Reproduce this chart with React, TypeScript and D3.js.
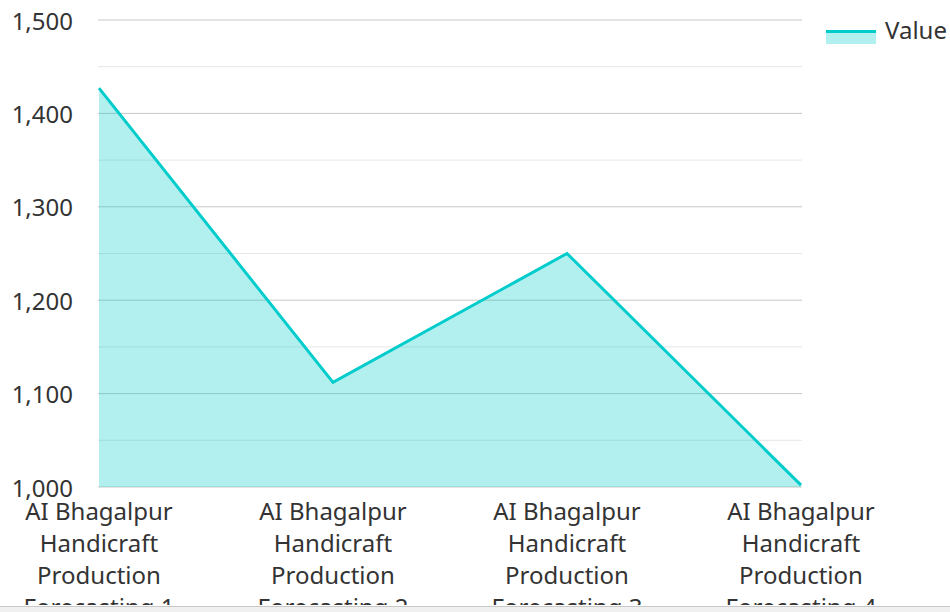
import React from "react";
import * as d3 from "d3";

const categories = [
  "AI Bhagalpur Handicraft Production Forecasting 1",
  "AI Bhagalpur Handicraft Production Forecasting 2",
  "AI Bhagalpur Handicraft Production Forecasting 3",
  "AI Bhagalpur Handicraft Production Forecasting 4",
];
const values = [1427, 1112, 1250, 1002];
const majorTicks = [1000, 1100, 1200, 1300, 1400, 1500];
const minorTicks = [1050, 1150, 1250, 1350, 1450];
const seriesName = "Value";

const W = 950;
const H = 612;
const FONT = "'Noto Sans', 'Open Sans', sans-serif";
const LINE = "#00CCCC";
const FILL = "rgba(0,204,204,0.3)";
const TEXT = "#333333";

function wrapLabel(s: string): string[] {
  const words = s.split(" ");
  return [words.slice(0, 2).join(" "), words[2], words[3], words.slice(4).join(" ")];
}

export default function App() {
  const x = d3.scalePoint<string>().domain(categories).range([99, 801]);
  const y = d3.scaleLinear().domain([1000, 1500]).range([487, 20]);
  const data = categories.map((c, i) => ({ c, v: values[i] }));
  const line = d3
    .line<{ c: string; v: number }>()
    .x((d) => x(d.c)!)
    .y((d) => y(d.v));
  const area = d3
    .area<{ c: string; v: number }>()
    .x((d) => x(d.c)!)
    .y0(y(1000))
    .y1((d) => y(d.v));
  const fmt = d3.format(",");

  return (
    <svg
      width={W}
      height={H}
      style={{ position: "absolute", left: 0, top: 0, background: "#fff" }}
      fontFamily={FONT}
    >
      <defs>
        <clipPath id="clip">
          <rect x={0} y={0} width={W} height={605} />
        </clipPath>
      </defs>
      <g clipPath="url(#clip)">
        {minorTicks.map((t) => (
          <line key={"m" + t} x1={98} x2={802} y1={y(t)} y2={y(t)} stroke="#e6e6e6" strokeWidth={1} />
        ))}
        {majorTicks.map((t) => (
          <line key={"M" + t} x1={98} x2={802} y1={y(t)} y2={y(t)} stroke="#c8c8c8" strokeWidth={1} />
        ))}
        <path d={area(data)!} fill={FILL} stroke="none" />
        <path d={line(data)!} fill="none" stroke={LINE} strokeWidth={3} strokeLinejoin="miter" />
        {majorTicks.map((t) => (
          <text key={"t" + t} x={73} y={y(t) + 9.5} textAnchor="end" fontSize={24} fill={TEXT}>
            {fmt(t)}
          </text>
        ))}
        {categories.map((c) => (
          <text key={c} x={x(c)!} y={520} textAnchor="middle" fontSize={24} fill={TEXT}>
            {wrapLabel(c).map((l, i) => (
              <tspan key={i} x={x(c)!} y={520 + i * 32}>
                {l}
              </tspan>
            ))}
          </text>
        ))}
        <rect x={826} y={33} width={50} height={11} fill={FILL} />
        <line x1={826} x2={876} y1={31.5} y2={31.5} stroke={LINE} strokeWidth={3} />
        <text x={885} y={39} fontSize={24} fill={TEXT}>
          {seriesName}
        </text>
      </g>
      <rect x={0} y={606} width={W} height={6} fill="#f0f0f0" />
      <line x1={0} x2={W} y1={606.5} y2={606.5} stroke="#c8c8c8" strokeWidth={1} />
    </svg>
  );
}
